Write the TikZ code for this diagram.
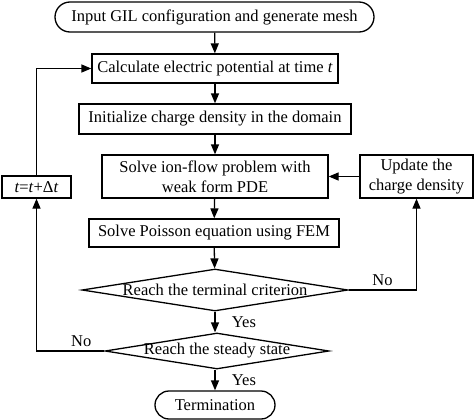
\documentclass[tikz,border=0pt]{standalone}
\usepackage{fontspec}
\setmainfont{Liberation Serif}
\usetikzlibrary{shapes.geometric,shapes.misc,arrows.meta}
\tikzset{
	proc/.style={draw, line width=1.3pt, rectangle, inner sep=0pt, minimum height=29pt, align=center},
	term/.style={draw, line width=1.3pt, rounded rectangle, inner sep=0pt, minimum height=30pt},
	decide/.style={draw, line width=1.3pt, diamond, inner sep=0pt, aspect=6},
	arr/.style={line width=1.3pt, -{Triangle[length=10pt,width=8pt]}}
}

\begin{document}
\begin{tikzpicture}[x=1pt, y=-1pt, font=\fontsize{16.5}{20}\selectfont]
	\useasboundingbox (0,0) rectangle (474,420);
	\node[term, minimum width=319pt] (start) at (214.5,17) {Input GIL configuration and generate mesh};
	\node[proc, minimum width=246pt] (calc) at (215,68.5) {Calculate electric potential at time \textit{t}};
	\node[proc, minimum width=272pt, minimum height=30pt] (init) at (215,119) {Initialize charge density in the domain};
	\node[proc, minimum width=226pt, minimum height=43pt] (ion) at (215,176.5) {Solve ion-flow problem with\\weak form PDE};
	\node[proc, minimum width=113pt, minimum height=43pt] (upd) at (416.5,176.5) {Update the\\charge density};
	\node[proc, minimum width=69pt, minimum height=22pt] (tinc) at (36.5,187) {\textit{t}=\textit{t}+Δ\textit{t}};
	\node[proc, minimum width=250pt, minimum height=28pt] (pois) at (214,233) {Solve Poisson equation using FEM};
	\node[decide, minimum width=266pt, minimum height=42pt] (crit) at (215,290) {\makebox[0pt]{Reach the terminal criterion}};
	\node[decide, minimum width=224pt, minimum height=36pt] (steady) at (217,351) {\makebox[0pt]{Reach the steady state}};
	\node[term, minimum width=120pt, minimum height=28pt] (stop) at (215,405) {Termination};
	% main flow
	\draw[arr] (start) -- (calc);
	\draw[arr] (calc) -- (init);
	\draw[arr] (init) -- (ion);
	\draw[arr] (ion) -- (pois);
	\draw[arr] (pois) -- (crit);
	\draw[arr] (crit.south) -- node[right=13pt] {Yes} (crit.south |- steady.north);
	\draw[arr] (steady.south -| stop.north) -- node[right=13pt] {Yes} (stop.north);
	% loops
	\draw[arr] (crit.east) -| node[pos=0.25, above] {No} (upd.south);
	\draw[arr] (upd) -- (ion);
	\draw[arr] (steady.west) -| node[pos=0.17, above] {No} (tinc.south);
	\draw[arr] (tinc.north) |- (calc.west);
\end{tikzpicture}
\end{document}
